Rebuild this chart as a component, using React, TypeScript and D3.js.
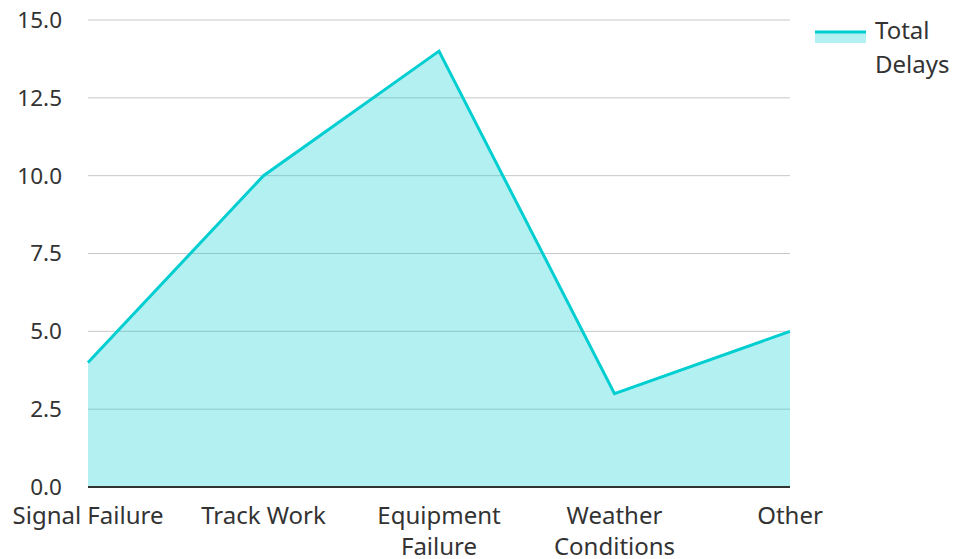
import React from "react";
import * as d3 from "d3";

const categories = ["Signal Failure", "Track Work", "Equipment Failure", "Weather Conditions", "Other"];
const categoryLines = [["Signal Failure"], ["Track Work"], ["Equipment", "Failure"], ["Weather", "Conditions"], ["Other"]];
const totalDelays = [4, 10, 14, 3, 5];
const yTicks = [0, 2.5, 5, 7.5, 10, 12.5, 15];
const seriesName = ["Total", "Delays"];

const W = 953, H = 559;
const left = 88, right = 790, top = 20, bottom = 487;
const LINE = "#00CED1";
const FILL = "rgba(0,206,209,0.3)";
const FONT = "'Noto Sans', 'Open Sans', sans-serif";
const FS = 24;

export default function App() {
  const x = d3.scalePoint<string>().domain(categories).range([left, right]);
  const y = d3.scaleLinear().domain([0, 15]).range([bottom, top]);
  const data = categories.map((c, i) => ({ c, v: totalDelays[i] }));
  const area = d3.area<{ c: string; v: number }>().x(d => x(d.c)!).y0(y(0)).y1(d => y(d.v));
  const line = d3.line<{ c: string; v: number }>().x(d => x(d.c)!).y(d => y(d.v));
  return (
    <svg width={W} height={H} style={{ position: "absolute", left: 0, top: 0 }} fontFamily={FONT}>
      {yTicks.map(t => (
        <g key={t}>
          <line x1={left} x2={right} y1={y(t)} y2={y(t)} stroke="#c8c8c8" strokeWidth={1} />
          <text x={62} y={y(t)} dy="0.35em" textAnchor="end" fontSize={22.5} fill="#333">{t.toFixed(1)}</text>
        </g>
      ))}
      <path d={area(data)!} fill={FILL} />
      <path d={line(data)!} fill="none" stroke={LINE} strokeWidth={3} strokeLinejoin="miter" />
      <line x1={left} x2={right} y1={bottom} y2={bottom} stroke="#333" strokeWidth={2} />
      {categories.map((c, i) => (
        <text key={c} x={x(c)} y={524} textAnchor="middle" fontSize={FS} fill="#333">
          {categoryLines[i].map((l, j) => (
            <tspan key={j} x={x(c)} dy={j === 0 ? 0 : 31}>{l}</tspan>
          ))}
        </text>
      ))}
      <rect x={815} y={32} width={51} height={11} fill={FILL} />
      <line x1={815} x2={866} y1={32} y2={32} stroke={LINE} strokeWidth={3} />
      <text x={875} y={39} fontSize={FS} fill="#333">
        {seriesName.map((s, j) => (
          <tspan key={j} x={875} dy={j === 0 ? 0 : 34}>{s}</tspan>
        ))}
      </text>
    </svg>
  );
}
